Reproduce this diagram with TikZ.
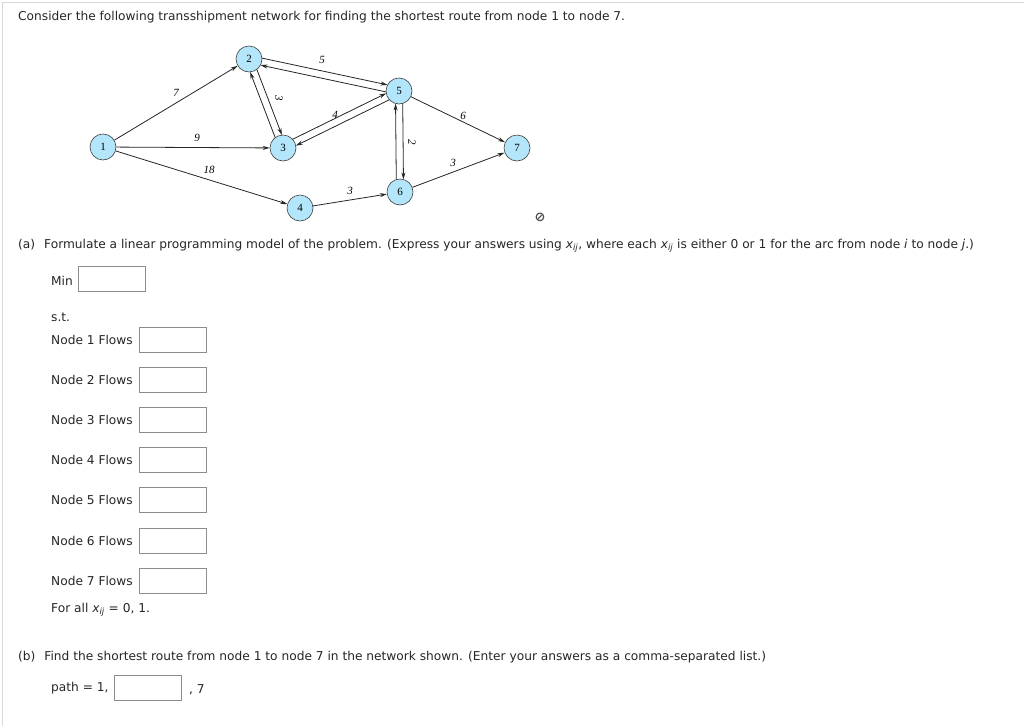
\documentclass[tikz,border=0pt]{standalone}
\usepackage{fontspec}
\setmainfont{DejaVu Sans}
\newfontfamily\serifnet{Liberation Serif}
\usetikzlibrary{calc,arrows.meta}
\begin{document}
\begin{tikzpicture}[x=1pt,y=-1pt,
  txt/.style={anchor=west,inner sep=0,text=black!85,font=\fontsize{12.2}{14}\selectfont},
  ansbox/.style={draw=black!45,line width=0.8pt,minimum width=67pt,minimum height=25pt,anchor=north west,inner sep=0},
  vert/.style={circle,draw=black!75,line width=0.6pt,fill=cyan!30!white,minimum size=26pt,inner sep=0,font=\serifnet\fontsize{11}{11}\selectfont},
  arc/.style={draw=black!85,line width=0.8pt,-{Stealth[length=7pt,width=4pt]}},
  wt/.style={font=\serifnet\itshape\fontsize{11}{11}\selectfont,inner sep=0}]
\useasboundingbox (0,0) rectangle (1024,726);
\fill[white] (0,0) rectangle (1024,726);
\draw[black!15,line width=1pt] (2,726) -- (2,2) -- (1024,2);
\node[txt] (t0) at (18,17) {Consider the following transshipment network for finding the shortest route from node 1 to node 7.};
% network
\node[vert] (n1) at (103,147) {1};
\node[vert] (n2) at (249,59) {2};
\node[vert] (n3) at (283,148) {3};
\node[vert] (n4) at (300,208) {4};
\node[vert] (n5) at (399,91) {5};
\node[vert] (n6) at (400,192) {6};
\node[vert] (n7) at (517,148) {7};
\draw[arc] (n1) -- (n2);
\draw[arc] (n1) -- (n3);
\draw[arc] (n1) -- (n4);
\draw[arc] (n4) -- (n6);
\draw[arc] (n6) -- (n7);
\draw[arc] (n5) -- (n7);
\draw[arc] ($(n2.center)!13pt!16:(n5.center)$) -- ($(n5.center)!13pt!-16:(n2.center)$);
\draw[arc] ($(n5.center)!13pt!16:(n2.center)$) -- ($(n2.center)!13pt!-16:(n5.center)$);
\draw[arc] ($(n2.center)!13pt!16:(n3.center)$) -- ($(n3.center)!13pt!-16:(n2.center)$);
\draw[arc] ($(n3.center)!13pt!16:(n2.center)$) -- ($(n2.center)!13pt!-16:(n3.center)$);
\draw[arc] ($(n3.center)!13pt!16:(n5.center)$) -- ($(n5.center)!13pt!-16:(n3.center)$);
\draw[arc] ($(n5.center)!13pt!16:(n3.center)$) -- ($(n3.center)!13pt!-16:(n5.center)$);
\draw[arc] ($(n5.center)!13pt!16:(n6.center)$) -- ($(n6.center)!13pt!-16:(n5.center)$);
\draw[arc] ($(n6.center)!13pt!16:(n5.center)$) -- ($(n5.center)!13pt!-16:(n6.center)$);
\node[wt] (w12) at (176,93) {7};
\node[wt] (w25) at (322,60) {5};
\node[wt,rotate=-90] (w23) at (279,98) {3};
\node[wt] (w35) at (335,115) {4};
\node[wt] (w57) at (463,116) {6};
\node[wt] (w13) at (197,138) {9};
\node[wt,rotate=-90] (w56) at (412,142) {2};
\node[wt] (w14) at (209,170) {18};
\node[wt] (w46) at (350,191) {3};
\node[wt] (w67) at (453,163) {3};
\node[font=\fontsize{13}{13}\selectfont\bfseries,text=black!70,inner sep=0] (icon) at (540,217) {⊘};
% part a
\node[txt] (ta) at (18,246) {(a)\hspace{9pt}Formulate a linear programming model of the problem. (Express your answers using \textit{x}\textsubscript{\textit{ij}}, where each \textit{x}\textsubscript{\textit{ij}} is either 0 or 1 for the arc from node \textit{i} to node \textit{j}.)};
\node[txt] (tmin) at (51,281) {Min};
\node[ansbox] (bmin) at (78,266) {};
\node[txt] (tst) at (51,317) {s.t.};
\foreach \k/\y in {1/327,2/367,3/407,4/447,5/487,6/528,7/568}{
  \node[txt] (tn\k) at (51,\y+13) {Node \k\ Flows};
  \node[ansbox] (bn\k) at (139,\y) {};
}
\node[txt] (tall) at (51,610) {For all \textit{x}\textsubscript{\textit{ij}} = 0, 1.};
\node[txt] (tb) at (18,657) {(b)\hspace{9pt}Find the shortest route from node 1 to node 7 in the network shown. (Enter your answers as a comma-separated list.)};
\node[txt] (tp) at (51,688) {path = 1,};
\node[ansbox] (bp) at (114,675) {};
\node[txt] (tp7) at (189,690) {, 7};
\end{tikzpicture}
\end{document}
